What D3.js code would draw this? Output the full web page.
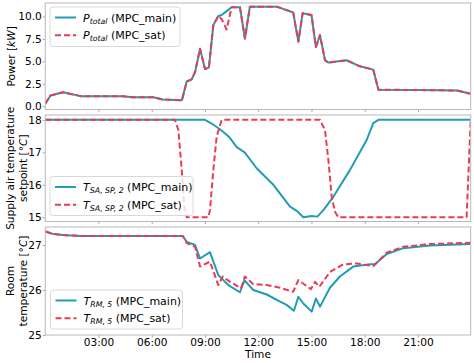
<!DOCTYPE html>
<html>
<head>
<meta charset="utf-8">
<script src="https://cdn.jsdelivr.net/npm/d3@7"></script>
<style>
body { margin: 0; background: #fff; }
text { font-family: "DejaVu Sans", sans-serif; font-size: 10.6px; fill: #000; }
.tick line { stroke: #a8a8a8; }
</style>
</head>
<body>
<script>
// hours of the day and readings
var tickHours = [3, 6, 9, 12, 15, 18, 21];

var powerHours = [0, 0.3, 1.0, 2.0, 4.4, 4.9, 6.1, 6.6, 7.7, 7.97, 8.25, 8.44, 8.72, 9.0, 9.22, 9.47, 9.75, 9.94, 10.22, 10.5, 10.97, 11.25, 11.53, 13.04, 13.97, 14.26, 14.5, 15.0, 15.25, 15.48, 15.76, 15.95, 16.98, 17.73, 18.48, 18.77, 21.1, 23.2, 23.97];
var powerMain  = [0.27, 1.2, 1.55, 1.12, 1.1, 1.0, 1.0, 0.75, 0.65, 2.75, 3.0, 3.8, 6.4, 4.15, 4.3, 9.05, 10.06, 10.17, 10.6, 11.03, 11.03, 7.55, 11.1, 11.1, 10.45, 7.2, 10.36, 10.17, 6.6, 7.93, 5.12, 4.86, 5.12, 4.45, 4.08, 1.84, 1.8, 1.75, 1.39];
var powerSat   = [0.27, 1.2, 1.55, 1.12, 1.1, 1.0, 1.0, 0.75, 0.65, 2.75, 3.0, 3.8, 6.4, 4.15, 4.3, 9.05, 10.06, 9.7, 8.56, 11.03, 11.03, 7.55, 11.1, 11.1, 10.45, 7.2, 10.36, 10.17, 6.6, 7.93, 5.12, 4.86, 5.12, 4.45, 4.08, 1.84, 1.8, 1.75, 1.39];

var spMainHours = [0, 9.0, 9.4, 9.84, 10.22, 10.41, 10.79, 11.25, 11.91, 12.85, 13.79, 14.17, 14.54, 15.01, 15.33, 15.67, 16.23, 17.17, 18.11, 18.48, 18.77, 23.97];
var spMainTemp  = [18, 18, 17.88, 17.71, 17.54, 17.44, 17.16, 16.99, 16.51, 16.0, 15.33, 15.2, 15.0, 15.04, 15.02, 15.22, 15.63, 16.46, 17.38, 17.9, 18.0, 18.0];
var spSatHours  = [0, 7.3, 7.5, 7.69, 7.83, 7.97, 9.19, 9.28, 9.47, 9.66, 9.94, 15.48, 15.76, 15.95, 16.14, 16.32, 16.51, 23.74, 23.97];
var spSatTemp   = [18, 18, 17.69, 16.46, 15.33, 15.0, 15.0, 15.22, 16.46, 17.49, 18.0, 18.0, 17.69, 16.77, 15.63, 15.17, 15.0, 15.0, 18.0];

var rmMainHours = [0, 0.4, 1.0, 2.0, 7.75, 7.97, 8.44, 8.72, 9.28, 9.75, 10.31, 10.97, 11.22, 11.72, 12.48, 13.23, 13.6, 14.01, 14.26, 14.54, 15.01, 15.25, 15.48, 16.04, 16.6, 17.35, 18.3, 18.58, 19.24, 20.17, 21.68, 23.97];
var rmMainTemp  = [27.3, 27.25, 27.22, 27.2, 27.2, 27.07, 27.0, 26.7, 26.84, 26.33, 26.11, 25.95, 26.22, 26.0, 25.9, 25.74, 25.67, 25.54, 25.85, 25.7, 25.52, 25.81, 25.63, 26.05, 26.3, 26.52, 26.57, 26.57, 26.8, 26.93, 26.99, 27.02];
var rmSatHours  = [0, 0.4, 1.0, 2.0, 7.75, 7.97, 8.44, 8.72, 9.28, 9.75, 10.0, 10.41, 11.03, 11.25, 11.72, 12.48, 13.23, 13.97, 14.26, 14.97, 15.2, 15.44, 16.04, 16.79, 17.55, 18.48, 19.24, 20.17, 21.68, 23.97];
var rmSatTemp   = [27.3, 27.25, 27.22, 27.2, 27.2, 27.04, 26.96, 26.52, 26.63, 26.11, 26.3, 26.18, 26.04, 26.3, 26.13, 26.11, 26.05, 25.96, 26.22, 26.02, 26.18, 26.07, 26.4, 26.57, 26.59, 26.53, 26.83, 26.96, 27.02, 27.05];

var mainColor = "#1f9db5";
var satColor = "#eb3b52";

var svg = d3.select("body").append("svg").attr("width", 474).attr("height", 363);

var left = 45.25, right = 470.7;
var x = d3.scaleLinear().domain([0, 23.97]).range([left, right]);

var panels = [
  {top: 3, bottom: 109.5, domain: [-0.37, 11.51], ticks: [0, 2.5, 5, 7.5, 10], fmt: d3.format(".1f"),
   series: [[powerHours, powerMain], [powerHours, powerSat]],
   sym: "P", sub: "total", legend: {x: 50, y: 7, w: 130, h: 39.5},
   label: [["Power [", ["kW", true], "]"]], labelX: [11]},
  {top: 115, bottom: 221.5, domain: [14.87, 18.15], ticks: [15, 16, 17, 18], fmt: d3.format("d"),
   series: [[spMainHours, spMainTemp], [spSatHours, spSatTemp]],
   sym: "T", sub: "SA, SP, 2", legend: {x: 50, y: 176.5, w: 143, h: 39},
   label: [["Supply air temperature"], ["setpoint [°", ["C", true], "]"]], labelX: [10, 23]},
  {top: 227, bottom: 335, domain: [25, 27.4], ticks: [25, 26, 27], fmt: d3.format("d"),
   series: [[rmMainHours, rmMainTemp], [rmSatHours, rmSatTemp]],
   sym: "T", sub: "RM, 5", legend: {x: 50.5, y: 290, w: 132, h: 39},
   label: [["Room"], ["temperature [°", ["C", true], "]"]], labelX: [10, 23]}
];

panels.forEach(function(p, k) {
  var y = d3.scaleLinear().domain(p.domain).range([p.bottom, p.top]);
  var g = svg.append("g");

  g.append("clipPath").attr("id", "clip" + k).append("rect")
    .attr("x", left).attr("y", p.top).attr("width", right - left).attr("height", p.bottom - p.top);

  var yAxis = g.append("g").attr("transform", "translate(" + left + ",0)")
    .call(d3.axisLeft(y).tickValues(p.ticks).tickFormat(p.fmt).tickSize(2.6).tickPadding(0.9));
  yAxis.select(".domain").remove();

  var xAxis = g.append("g").attr("transform", "translate(0," + p.bottom + ")")
    .call(d3.axisBottom(x).tickValues(tickHours).tickSize(2.6).tickPadding(1)
      .tickFormat(k == 2 ? function(d) { return (d < 10 ? "0" : "") + d + ":00"; } : ""));
  xAxis.select(".domain").remove();
  xAxis.selectAll("text").attr("y", 10.5).attr("dy", 0);
  g.selectAll(".tick text").style("font-family", "DejaVu Sans").style("font-size", "10.6px");

  var line = d3.line().x(function(d) { return x(d[0]); }).y(function(d) { return y(d[1]); });

  p.series.forEach(function(s, i) {
    var pts = d3.zip(s[0], s[1]);
    g.append("path").datum(pts)
      .attr("clip-path", "url(#clip" + k + ")")
      .attr("d", line)
      .attr("fill", "none")
      .attr("stroke", i == 0 ? mainColor : satColor)
      .attr("stroke-width", 2)
      .attr("stroke-dasharray", i == 0 ? null : "6,3")
      .attr("stroke-linejoin", "round");
  });

  g.append("rect")
    .attr("x", left).attr("y", p.top).attr("width", right - left).attr("height", p.bottom - p.top)
    .attr("fill", "none").attr("stroke", "#b8b8b8").attr("stroke-width", 1);

  // legend
  var L = p.legend;
  g.append("rect").attr("x", L.x).attr("y", L.y).attr("width", L.w).attr("height", L.h)
    .attr("rx", 3).attr("fill", "#fff").attr("fill-opacity", 0.8)
    .attr("stroke", "#d9d9d9").attr("stroke-width", 1);
  ["MPC_main", "MPC_sat"].forEach(function(name, i) {
    var ly = L.y + 10.5 + i * 17.7;
    g.append("line").attr("x1", L.x + 5).attr("x2", L.x + 26).attr("y1", ly).attr("y2", ly)
      .attr("stroke", i == 0 ? mainColor : satColor).attr("stroke-width", 2)
      .attr("stroke-dasharray", i == 0 ? null : "6,3");
    var t = g.append("text").attr("x", L.x + 33).attr("y", ly + 4).style("font-size", "11px");
    t.append("tspan").attr("font-style", "italic").text(p.sym);
    t.append("tspan").attr("font-style", "italic").attr("font-size", "7.8px").attr("dy", 2).text(p.sub);
    t.append("tspan").attr("dy", -2).text(" (" + name + ")");
  });

  // y label
  var cy = (p.top + p.bottom) / 2;
  p.label.forEach(function(parts, j) {
    var t = g.append("text").attr("text-anchor", "middle")
      .attr("transform", "translate(" + (p.labelX[j] + 4) + "," + cy + ") rotate(-90)");
    parts.forEach(function(part) {
      if (typeof part == "string") t.append("tspan").text(part);
      else t.append("tspan").attr("font-style", "italic").text(part[0]);
    });
  });
});

svg.append("text").attr("x", (left + right) / 2).attr("y", 358).attr("text-anchor", "middle").text("Time");
</script>
</body>
</html>
